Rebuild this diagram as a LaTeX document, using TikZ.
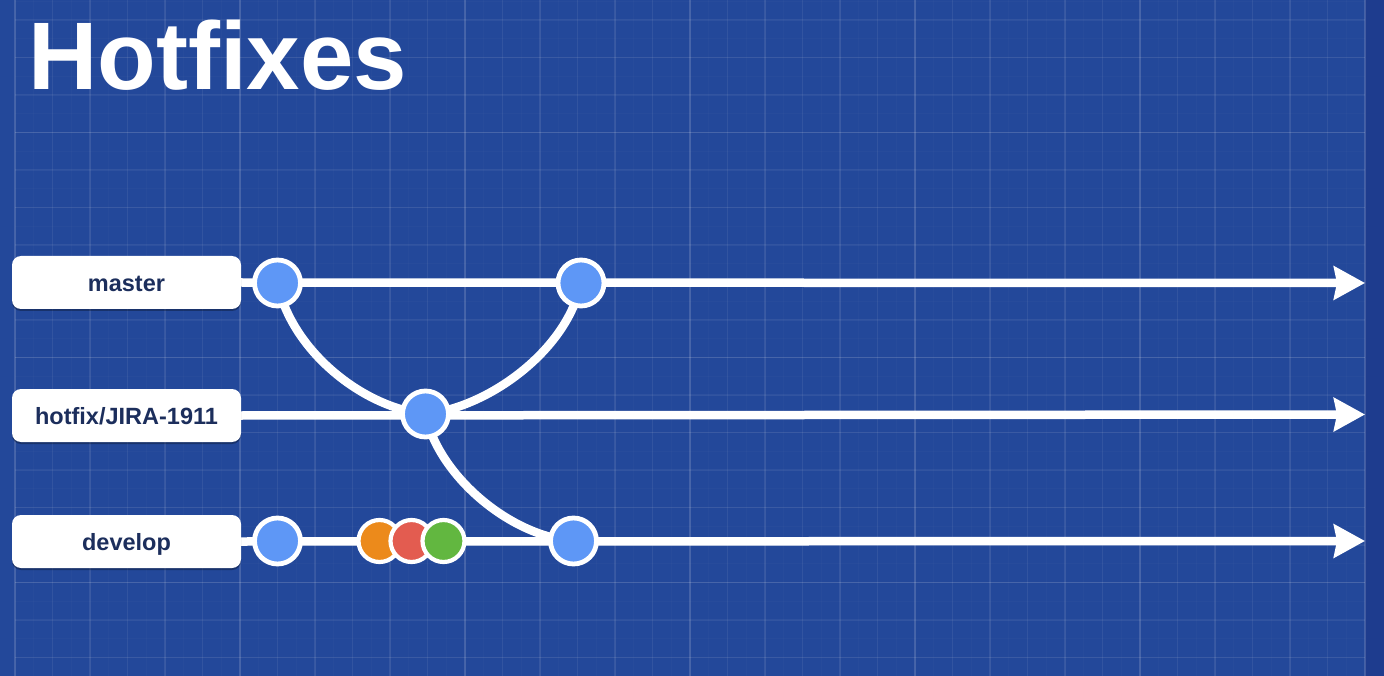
\documentclass[tikz,border=0pt]{standalone}
\usepackage{fontspec}
\setmainfont{Liberation Sans}
\usetikzlibrary{arrows.meta,shadows}
\definecolor{bgblue}{HTML}{23489A}
\definecolor{bgdark}{HTML}{1E3C8E}
\definecolor{cblue}{HTML}{5E97F6}
\definecolor{corange}{HTML}{EC8A1B}
\definecolor{cred}{HTML}{E35C50}
\definecolor{cgreen}{HTML}{62B740}
\definecolor{navy}{HTML}{1C2E5C}
\pgfdeclarelayer{bg}
\pgfdeclarelayer{lines}
\pgfsetlayers{bg,lines,main}
\begin{document}
\begin{tikzpicture}[x=1pt,y=-1pt,
  lbl/.style={fill=white, rounded corners=9pt, minimum width=229pt, minimum height=53pt,
    inner sep=0pt, text=navy, font=\fontsize{23.5}{23.5}\selectfont\bfseries,
    text height=22pt, text depth=4pt,
    drop shadow={shadow xshift=0pt, shadow yshift=-2pt, opacity=.3, fill=black}},
  commit/.style={circle, draw=white, line width=4.8pt, fill=cblue, minimum size=46pt, inner sep=0pt},
  cdot/.style={circle, draw=white, line width=4.2pt, minimum size=42pt, inner sep=0pt},
  branch/.style={white, line width=8.5pt},
  branchend/.style={branch, -{Stealth[length=31pt, width=33pt, inset=3pt]}},
  gridfaint/.style={white, opacity=.018, line width=1pt},
  gridminor/.style={white, opacity=.05, line width=1.2pt},
  gridmid/.style={white, opacity=.04, line width=1.4pt},
  gridmajor/.style={white, opacity=.07, line width=1.8pt}
]
\useasboundingbox (0,0) rectangle (1384,676);
\begin{pgfonlayer}{bg}
  \fill[bgblue] (0,0) rectangle (1384,676);
  \fill[bgdark] (1365,0) rectangle (1384,676);
  % grid
  \foreach \k in {0,...,72} \draw[gridfaint] ({15+18.75*\k},0) -- ({15+18.75*\k},676);
  \foreach \k in {0,...,36} \draw[gridfaint] (15,{1.25+18.75*\k}) -- (1365,{1.25+18.75*\k});
  \foreach \k in {0,...,36} \draw[gridminor] ({15+37.5*\k},0) -- ({15+37.5*\k},676);
  \foreach \k in {0,...,17} \draw[gridminor] (15,{20+37.5*\k}) -- (1365,{20+37.5*\k});
  \foreach \k in {0,...,18} \draw[gridmid] ({15+75*\k},0) -- ({15+75*\k},676);
  \foreach \k in {0,...,8} \draw[gridmid] (15,{57.5+75*\k}) -- (1365,{57.5+75*\k});
  \foreach \k in {0,...,6} \draw[gridmajor] ({15+225*\k},0) -- ({15+225*\k},676);
  \foreach \k in {0,...,2} \draw[gridmajor] (15,{132.5+225*\k}) -- (1365,{132.5+225*\k});
\end{pgfonlayer}

% title
\node[anchor=base west, inner sep=0pt, text=white, font=\fontsize{96}{96}\selectfont\bfseries] (title) at (28,90) {Hotfixes};

% labels
\node[lbl] (lm) at (126.5,282.5) {master};
\node[lbl] (lh) at (126.5,415.5) {hotfix/JIRA-1911};
\node[lbl] (ld) at (126.5,541.5) {develop};

% arrow ends
\coordinate (me) at (1365,283);
\coordinate (he) at (1365,414.5);
\coordinate (de) at (1365,541);

% commits
\node[commit] (m1) at (277.5,283) {};
\node[commit] (m2) at (581,283) {};
\node[commit] (h1) at (425.5,414) {};
\node[commit] (d1) at (277.5,541) {};
\node[cdot, fill=corange] (d2) at (379.5,541) {};
\node[cdot, fill=cred] (d3) at (411.5,541) {};
\node[cdot, fill=cgreen] (d4) at (443.5,541) {};
\node[commit] (d5) at (573.5,541) {};

\begin{pgfonlayer}{lines}
  \draw[branchend] (lm.east) -- (me);
  \draw[branchend] (lh.east) -- (he);
  \draw[branchend] (ld.east) -- (de);
  \draw[branch] (m1.center) .. controls +(14,68) and +(-62,-6) .. (h1.center);
  \draw[branch] (h1.center) .. controls +(62,-6) and +(-14,68) .. (m2.center);
  \draw[branch] (h1.center) .. controls +(12,60) and +(-65,-5) .. (d5.center);
\end{pgfonlayer}
\end{tikzpicture}
\end{document}
